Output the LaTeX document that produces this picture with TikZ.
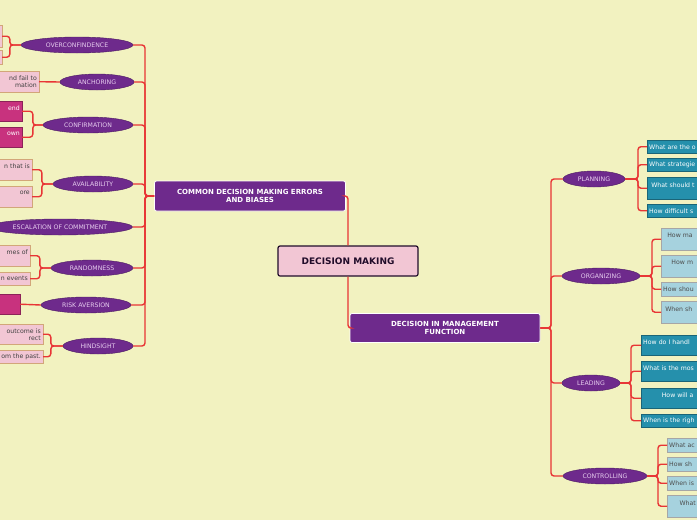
\documentclass[tikz,border=0pt]{standalone}
\usepackage{fontspec}
\setmainfont{DejaVu Sans}
\usetikzlibrary{shapes.geometric}
\definecolor{bg}{HTML}{F2F2C0}
\definecolor{conn}{HTML}{E83535}
\definecolor{purp}{HTML}{6E2A8C}
\definecolor{purpt}{HTML}{E6CCEE}
\definecolor{teal}{HTML}{2590AC}
\definecolor{lblue}{HTML}{A6D2DE}
\definecolor{lpink}{HTML}{F2C6D4}
\definecolor{dpink}{HTML}{C8327E}
\tikzset{
 x=1pt,y=-1pt,
 ell/.style={ellipse,fill=purp,draw=purp!70!black,text=purpt,font=\fontsize{6.2}{7}\selectfont,inner sep=0pt,minimum height=16pt},
 mainbox/.style={rectangle,rounded corners=2pt,fill=purp,draw=white,line width=0.8pt,text=white,font=\bfseries\fontsize{7}{8}\selectfont,align=center},
 centre/.style={rectangle,rounded corners=2pt,fill=lpink,draw=purp!30!black,line width=1.2pt,text=purp!30!black,font=\bfseries\fontsize{9}{10}\selectfont,minimum width=140pt,minimum height=30pt},
 tbox/.style={rectangle,fill=teal,draw=teal!70!black,text=white,font=\fontsize{6.2}{7}\selectfont,anchor=north west,inner sep=2pt,align=left,text width=60pt},
 bbox/.style={rectangle,fill=lblue,draw=gray!70,text=black!70,font=\fontsize{6.2}{7}\selectfont,anchor=north west,inner sep=2pt,align=left,text width=40pt},
 pbox/.style={rectangle,fill=lpink,draw=brown!70,text=black!75,font=\fontsize{6.2}{7}\selectfont,anchor=north east,inner sep=2pt,align=right,text width=40pt},
 dbox/.style={rectangle,fill=dpink,draw=dpink!70!black,text=white,font=\fontsize{6.2}{7}\selectfont,anchor=north east,inner sep=2pt,align=right,text width=40pt},
 cn/.style={draw=conn,line width=1.4pt,rounded corners=3pt},
}
\begin{document}
\begin{tikzpicture}
\fill[bg] (0,0) rectangle (697,520);
\clip (0,0) rectangle (697,520);
\useasboundingbox (0,0) rectangle (697,520);
\node[centre] (c) at (348,261) {DECISION MAKING};
\node[mainbox,minimum width=191pt,minimum height=30pt] (L) at (250,196) {COMMON DECISION MAKING ERRORS\\AND BIASES};
\node[mainbox,minimum width=190pt,minimum height=29pt] (R) at (445,328) {DECISION IN MANAGEMENT\\FUNCTION};
\draw[cn] (c.north) -- ++(0,-20) |- (L.east);
\draw[cn] (c.south) -- ++(0,20) |- (R.west);
\node[ell,minimum width=112pt] (e1) at (77,45) {OVERCONFINDENCE};
\node[ell,minimum width=74pt] (e2) at (97,82) {ANCHORING};
\node[ell,minimum width=90pt] (e3) at (88,125) {CONFIRMATION};
\node[ell,minimum width=80pt] (e4) at (93,184) {AVAILABILITY};
\node[ell,minimum width=145pt] (e5) at (60,227) {ESCALATION OF COMMITMENT};
\node[ell,minimum width=82pt] (e6) at (92,268) {RANDOMNESS};
\node[ell,minimum width=90pt] (e7) at (86,305) {RISK AVERSION};
\node[ell,minimum width=70pt] (e8) at (98,346) {HINDSIGHT};
\foreach \e in {e1,e2,e3,e4,e5,e6,e7,e8} \draw[cn] (L.west) -- (145,196) |- (\e.east);
\node[pbox,minimum height=22pt] (o1) at (2,25) {};
\node[pbox,minimum height=14pt] (o2) at (2,50) {};
\node[pbox,minimum height=21pt] (a1) at (39,71) {nd fail to\\mation};
\node[dbox,minimum height=20pt] (f1) at (22,101) {end\\\mbox{}};
\node[dbox,minimum height=20pt] (f2) at (22,127) {own\\\mbox{}};
\node[pbox,minimum height=21pt] (v1) at (32,159) {n that is\\\mbox{}};
\node[pbox,minimum height=21pt] (v2) at (32,186) {ore\\\mbox{}};
\node[pbox,minimum height=21pt] (r1) at (30,245) {mes of\\\mbox{}};
\node[pbox,minimum height=13pt] (r2) at (30,272) {n events};
\node[dbox,minimum height=20pt] (k1) at (20,294) {\mbox{}};
\node[pbox,minimum height=20pt] (h1) at (43,324) {outcome is\\rect};
\node[pbox,minimum height=13pt] (h2) at (43,350) {om the past.};
\draw[cn] (e1.west) -- ++(-11,0) |- (o1.east); \draw[cn] (e1.west) -- ++(-11,0) |- (o2.east);
\draw[cn] (e2.west) -- (a1.east);
\draw[cn] (e3.west) -- ++(-10,0) |- (f1.east); \draw[cn] (e3.west) -- ++(-10,0) |- (f2.east);
\draw[cn] (e4.west) -- ++(-11,0) |- (v1.east); \draw[cn] (e4.west) -- ++(-11,0) |- (v2.east);
\draw[cn] (e6.west) -- ++(-11,0) |- (r1.east); \draw[cn] (e6.west) -- ++(-11,0) |- (r2.east);
\draw[cn] (e7.west) -- (k1.east);
\draw[cn] (e8.west) -- ++(-12,0) |- (h1.east); \draw[cn] (e8.west) -- ++(-12,0) |- (h2.east);
\node[ell,minimum width=62pt] (p) at (594,179) {PLANNING};
\node[ell,minimum width=78pt] (o) at (601,276) {ORGANIZING};
\node[ell,minimum width=58pt] (l) at (591,383) {LEADING};
\node[ell,minimum width=84pt] (t) at (605,476) {CONTROLLING};
\foreach \e in {p,o,l,t} \draw[cn] (R.east) -- (551,328) |- (\e.west);
\node[tbox,minimum height=13pt] (p1) at (647,140) {What are the o};
\node[tbox,minimum height=13pt] (p2) at (647,158) {What strategie};
\node[tbox,minimum height=22pt] (p3) at (647,177) {\ What should t\\\mbox{}};
\node[tbox,minimum height=13pt] (p4) at (647,204) {How difficult s};
\foreach \b in {p1,p2,p3,p4} \draw[cn] (p.east) -- (638,179) |- (\b.west);
\node[bbox,minimum height=22pt] (o1r) at (661,228) {\ \ How ma\\\mbox{}};
\node[bbox,minimum height=22pt] (o2r) at (661,255) {\ \ \ \ How m\\\mbox{}};
\node[bbox,minimum height=14pt] (o3r) at (661,282) {How shou};
\node[bbox,minimum height=22pt] (o4r) at (661,301) {\ When sh\\\mbox{}};
\foreach \b in {o1r,o2r,o3r,o4r} \draw[cn] (o.east) -- (652,276) |- (\b.west);
\node[tbox,minimum height=20pt] (l1) at (641,335) {How do I handl\\\mbox{}};
\node[tbox,minimum height=20pt] (l2) at (641,361) {What is the mos\\\mbox{}};
\node[tbox,minimum height=20pt] (l3) at (641,388) {\ \ \ \ \ \ \ \ \ How will a\\\mbox{}};
\node[tbox,minimum height=13pt] (l4) at (641,414) {When is the righ};
\foreach \b in {l1,l2,l3,l4} \draw[cn] (l.east) -- (631,383) |- (\b.west);
\node[bbox,minimum height=14pt] (t1) at (667,438) {What ac};
\node[bbox,minimum height=14pt] (t2) at (667,457) {How sh};
\node[bbox,minimum height=14pt] (t3) at (667,476) {When is};
\node[bbox,minimum height=22pt] (t4) at (667,495) {\ \ \ \ \ What\\\mbox{}};
\foreach \b in {t1,t2,t3,t4} \draw[cn] (t.east) -- (658,476) |- (\b.west);
\end{tikzpicture}
\end{document}
